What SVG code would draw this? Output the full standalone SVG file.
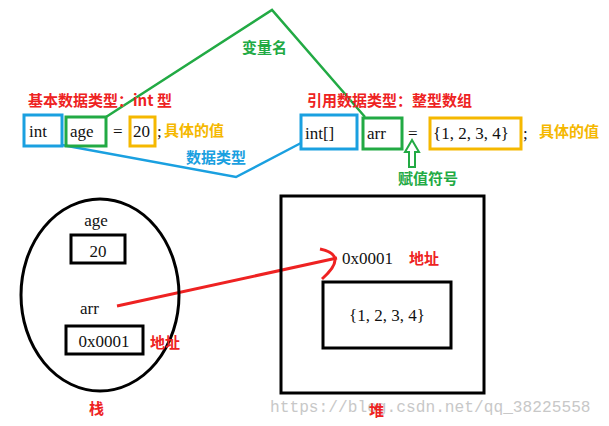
<svg xmlns="http://www.w3.org/2000/svg" width="609" height="426" viewBox="0 0 609 426">
<style>
.m{font-family:"Liberation Serif","Noto Sans CJK SC",serif;font-size:17px;fill:#111}
.c{font-family:"Noto Sans CJK SC",sans-serif;font-weight:bold;font-size:15px}
.r{fill:#ee2222}.y{fill:#f5b800}.g{fill:#22aa44}.b{fill:#1aa0e0}
.k{fill:none;stroke:#000;stroke-width:3}
</style>
<rect width="609" height="426" fill="#fff"/>
<g id="connectors" fill="none" stroke-width="2.5">
<polyline points="106,117 272,10 365,117" stroke="#22aa44"/>
<polyline points="62,145 236,177 301,143" stroke="#1aa0e0"/>
<path d="M117,306 L337,258" stroke="#ee2222" stroke-width="3"/>
<path d="M320,249 Q349,255 322,279" stroke="#ee2222" stroke-width="3"/>
<path d="M409,167 V152 H405 L412,140 L419,152 H415 V167 Z" stroke="#22aa44" stroke-width="2"/>
</g>
<g id="labels">
<text x="28" y="106" class="c r">基本数据类型：int 型</text>
<text x="307" y="106" class="c r">引用数据类型：整型数组</text>
<text x="242" y="53" class="c g">变量名</text>
<text x="186" y="163" class="c b">数据类型</text>
<text x="398" y="184" class="c g">赋值符号</text>
</g>
<g id="decl-primitive">
<rect x="24" y="115" width="38" height="31" fill="none" stroke="#1aa0e0" stroke-width="3"/>
<text x="29" y="137" class="m">int</text>
<rect x="66" y="117" width="40" height="29" fill="none" stroke="#22aa44" stroke-width="3"/>
<text x="70" y="137" class="m">age</text>
<text x="113" y="137" class="m">=</text>
<rect x="130" y="117" width="25" height="29" fill="none" stroke="#f5b800" stroke-width="3"/>
<text x="133" y="137" class="m">20</text>
<text x="157" y="137" class="m">;</text>
<text x="164" y="136" class="c y" font-size="16">具体的值</text>
</g>
<g id="decl-array">
<rect x="301" y="115" width="56" height="34" fill="none" stroke="#1aa0e0" stroke-width="3"/>
<text x="305" y="139" class="m">int[]</text>
<rect x="363" y="118" width="39" height="31" fill="none" stroke="#22aa44" stroke-width="3"/>
<text x="367" y="139" class="m">arr</text>
<text x="408" y="139" class="m">=</text>
<rect x="430" y="118" width="91" height="31" fill="none" stroke="#f5b800" stroke-width="3"/>
<text x="433" y="139" class="m">{1, 2, 3, 4}</text>
<text x="523" y="139" class="m">;</text>
<text x="539" y="137" class="c y" font-size="16">具体的值</text>
</g>
<g id="stack">
<ellipse cx="100" cy="295" rx="79" ry="96" class="k" stroke-width="2.5"/>
<text x="96" y="226" class="m" text-anchor="middle">age</text>
<rect x="71" y="235" width="54" height="28" class="k"/>
<text x="98" y="257" class="m" text-anchor="middle">20</text>
<text x="80" y="314" class="m">arr</text>
<rect x="66" y="326" width="77" height="28" class="k"/>
<text x="104" y="347" class="m" text-anchor="middle">0x0001</text>
<text x="150" y="348" class="c r" font-size="16">地址</text>
<text x="89" y="414" class="c r" font-size="16">栈</text>
</g>
<g id="heap">
<rect x="281" y="196" width="203" height="197" class="k"/>
<text x="342" y="264" class="m">0x0001</text>
<text x="409" y="264" class="c r" font-size="16">地址</text>
<rect x="323" y="282" width="128" height="66" class="k"/>
<text x="387" y="321" class="m" text-anchor="middle">{1, 2, 3, 4}</text>
</g>
<text x="270" y="412" font-family="Liberation Mono,monospace" font-size="16.2" fill="#c8c8c8">https://blog.csdn.net/qq_38225558</text>
<text x="369" y="416" class="c r" font-size="16">堆</text>
</svg>
